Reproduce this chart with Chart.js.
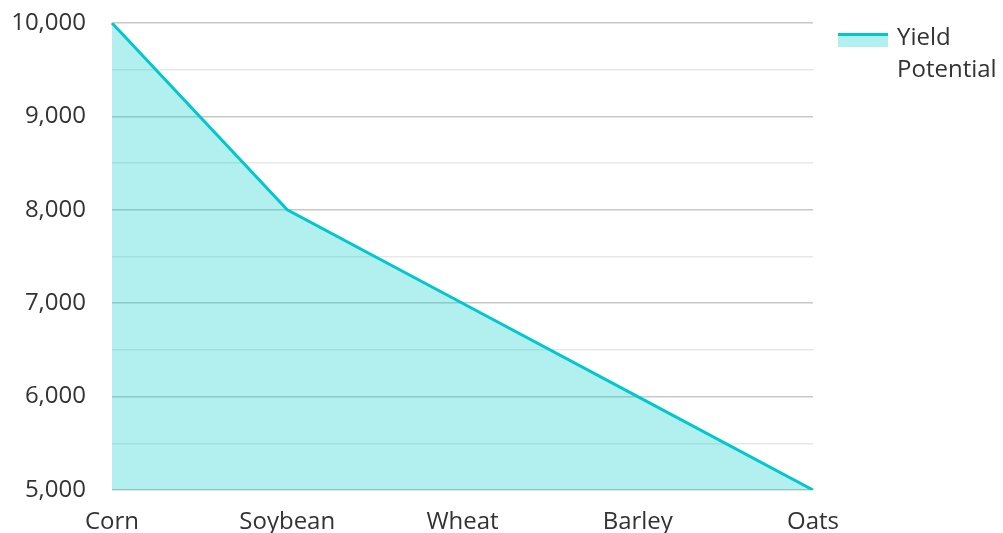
<!DOCTYPE html>
<html lang="en">
<head>
  <meta charset="UTF-8" />
  <title>Yield Potential</title>
  <script src="https://cdn.jsdelivr.net/npm/chart.js"></script>
  <style>
    html, body {
      margin: 0;
      padding: 0;
      background: #fff;
      font-family: "Open Sans", sans-serif;
    }
    .wrap {
      position: relative;
      width: 1003px;
      height: 533px;
    }
    .legend {
      position: absolute;
      left: 838px;
      top: 20px;
      color: #333;
      font-size: 24px;
      line-height: 32px;
    }
    .legend .swatch {
      position: absolute;
      left: 0;
      top: 13px;
      width: 50px;
      height: 14px;
      background: rgba(0, 204, 204, 0.3);
      border-top: 3px solid #00c8cc;
      box-sizing: border-box;
    }
    .legend .text {
      margin-left: 59px;
    }
  </style>
</head>
<body>
  <div class="wrap">
    <canvas id="chart" width="1003" height="533"></canvas>
    <div class="legend">
      <div class="swatch"></div>
      <div class="text">Yield<br>Potential</div>
    </div>
  </div>

  <script>
    const crops = ["Corn", "Soybean", "Wheat", "Barley", "Oats"];
    const yieldPotential = [10000, 8000, 7000, 6000, 5000];
    const yMin = 5000;
    const yMax = 10000;

    const ctx = document.getElementById("chart").getContext("2d");
    new Chart(ctx, {
      type: "line",
      data: {
        labels: crops,
        datasets: [{
          label: "Yield Potential",
          data: yieldPotential,
          borderColor: "#00c8cc",
          backgroundColor: "rgba(0, 204, 204, 0.3)",
          borderWidth: 3,
          pointRadius: 0,
          fill: "start",
          tension: 0
        }]
      },
      options: {
        responsive: false,
        animation: false,
        layout: { padding: { top: 23, right: 190, left: 0, bottom: 0 } },
        plugins: {
          legend: { display: false },
          tooltip: { enabled: false }
        },
        scales: {
          x: {
            offset: false,
            grid: { display: false },
            border: { display: false },
            ticks: {
              color: "#333",
              font: { family: "Open Sans", size: 24 },
              padding: 10,
              maxRotation: 0
            },
            afterFit: s => { s.height = 43; s.paddingLeft = 0; s.paddingRight = 0; }
          },
          y: {
            min: yMin,
            max: yMax,
            border: { display: false },
            grid: {
              drawTicks: false,
              color: c => (c.tick && c.tick.value % 1000 === 0) ? "#c8c8c8" : "#e8e8e8",
              lineWidth: 1.5
            },
            ticks: {
              stepSize: 500,
              color: "#333",
              font: { family: "Open Sans", size: 24 },
              padding: 26,
              callback: v => v % 1000 === 0 ? v.toLocaleString("en-US") : ""
            },
            afterFit: s => { s.width = 112; s.paddingTop = 0; s.paddingBottom = 0; }
          }
        }
      }
    });
  </script>
</body>
</html>
